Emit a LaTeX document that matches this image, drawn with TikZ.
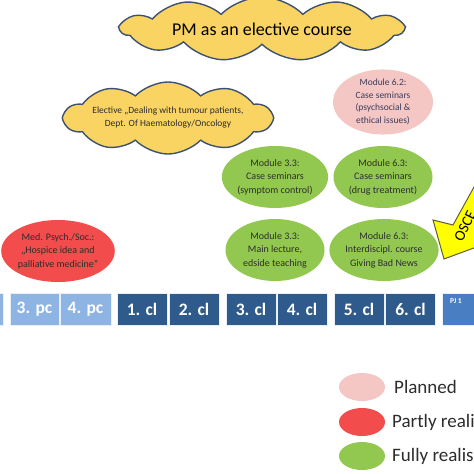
\documentclass[tikz,border=0pt]{standalone}
\usepackage{fontspec}
\setmainfont{Carlito}
\usetikzlibrary{shapes.geometric,shapes.symbols}
\definecolor{cloudfill}{RGB}{250,212,98}
\definecolor{cloudline}{RGB}{60,82,112}
\definecolor{pinkfill}{RGB}{244,199,196}
\definecolor{greenfill}{RGB}{146,200,80}
\definecolor{redfill}{RGB}{242,76,76}
\definecolor{lightbox}{RGB}{142,180,227}
\definecolor{darkbox}{RGB}{46,90,140}
\definecolor{pjbox}{RGB}{74,126,194}
\definecolor{arrowfill}{RGB}{255,255,0}
\definecolor{arrowline}{RGB}{95,95,60}
\definecolor{txtdark}{RGB}{45,45,45}
\definecolor{txtpink}{RGB}{60,60,90}
\begin{document}
\begin{tikzpicture}[x=1pt,y=-1pt,
  cloudbox/.style={cloud, cloud puffs=#1, cloud puff arc=92, cloud ignores aspect,
    draw=cloudline, fill=cloudfill, line width=1.4pt, inner sep=0pt, align=center},
  oval/.style={ellipse, minimum width=99pt, minimum height=62pt, inner sep=0pt,
    align=center, text=txtdark, font=\fontsize{10}{13.5}\selectfont},
  semester/.style={rectangle, minimum height=32pt, inner sep=0pt, text=white,
    draw=white!80!lightbox, line width=0.5pt, font=\fontsize{17.5}{18}\selectfont\bfseries},
  legendoval/.style={ellipse, minimum width=46pt, minimum height=28pt, inner sep=0pt},
  legendtext/.style={anchor=west, inner sep=0pt, text=txtdark, font=\fontsize{19}{20}\selectfont}]
\path[use as bounding box] (0,0) rectangle (474,474);
\clip (0,0) rectangle (474,474);
\fill[white] (0,0) rectangle (474,474);

% clouds
\node[cloudbox=11, minimum width=282pt, minimum height=64pt,
  font=\fontsize{18}{20}\selectfont] (pm) at (262,29) {PM as an elective course};
\node[cloudbox=10, minimum width=178pt, minimum height=72pt, text=txtdark,
  font=\fontsize{9.5}{13}\selectfont] (elective) at (168,118)
  {Elective „Dealing with tumour patients,\\Dept. Of Haematology/Oncology};

% modules
\node[oval, fill=pinkfill, text=txtpink, minimum width=100pt,
  font=\fontsize{9.5}{12.7}\selectfont] (m62) at (383,102)
  {Module 6.2:\\Case seminars\\(psychsocial \&\\ethical issues)};
\node[oval, fill=greenfill] (m33a) at (275,177) {Module 3.3:\\Case seminars\\(symptom control)};
\node[oval, fill=greenfill] (m63a) at (383,177) {Module 6.3:\\Case seminars\\(drug treatment)};
\node[oval, fill=greenfill] (m33b) at (275,250) {Module 3.3:\\Main lecture,\\edside teaching};
\node[oval, fill=greenfill] (m63b) at (384,250) {Module 6.3:\\Interdiscipl. course\\Giving Bad News};
\node[oval, fill=redfill, minimum width=100pt] (psych) at (58,251)
  {Med. Psych./Soc.:\\„Hospice idea and\\palliative medicine”};

% OSCE arrow
\filldraw[fill=arrowfill, draw=arrowline, line width=1pt]
  (500,140) -- (453,225) -- (433,220) -- (444,259) -- (490,242) -- (540,170) -- cycle;
\node[rotate=64, inner sep=0pt, font=\fontsize{15}{16}\selectfont] (osce) at (465,226) {OSCE};

% semesters
\node[semester, fill=lightbox, minimum width=50pt] (p2) at (-22,309) {};
\node[semester, fill=lightbox, minimum width=49pt] (p3) at (34.5,309) {3. pc};
\node[semester, fill=lightbox, minimum width=51pt] (p4) at (85.5,309) {4. pc};
\node[semester, fill=darkbox, minimum width=50pt] (c1) at (142,309) {1. cl};
\node[semester, fill=darkbox, minimum width=50pt] (c2) at (194,309) {2. cl};
\node[semester, fill=darkbox, minimum width=50pt] (c3) at (251,309) {3. cl};
\node[semester, fill=darkbox, minimum width=50pt] (c4) at (302,309) {4. cl};
\node[semester, fill=darkbox, minimum width=50pt] (c5) at (359,309) {5. cl};
\node[semester, fill=darkbox, minimum width=50pt] (c6) at (410.5,309) {6. cl};
\node[semester, fill=pjbox, minimum width=58pt] (pj) at (471,309) {};
\node[inner sep=0pt, text=white, font=\fontsize{7.5}{8}\selectfont\bfseries] (pjlabel) at (456,301) {PJ 1};

% legend
\node[legendoval, fill=pinkfill] (lp) at (362,387) {};
\node[legendoval, fill=redfill] (lr) at (362,422) {};
\node[legendoval, fill=greenfill] (lg) at (362,456) {};
\node[legendtext] (tp) at (394,387) {Planned};
\node[legendtext] (tr) at (392,422) {Partly realised};
\node[legendtext] (tg) at (392,456) {Fully realised};
\end{tikzpicture}
\end{document}
